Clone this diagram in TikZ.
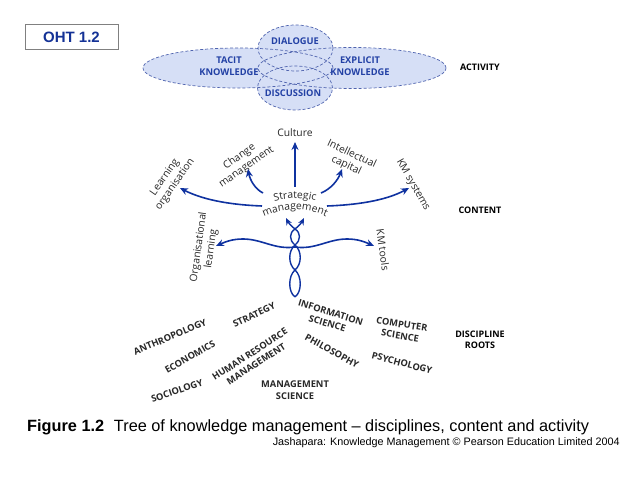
\documentclass[tikz,border=0pt]{standalone}
\usepackage{fontspec}
\setmainfont{Open Sans}
\newfontfamily\capfont{Liberation Sans}
\usetikzlibrary{arrows.meta, decorations.text, positioning}
\definecolor{OHTBlue}{RGB}{20,50,150}
\definecolor{EllFill}{RGB}{214,223,246}
\definecolor{EllLine}{RGB}{80,100,175}
\definecolor{EllText}{RGB}{35,65,165}
\definecolor{ArrBlue}{RGB}{15,50,160}
\definecolor{LabelGray}{RGB}{40,40,40}

\begin{document}
\begin{tikzpicture}[x=1pt, y=-1pt,
	lobe/.style={draw=EllLine, densely dashed, line width=0.7pt},
	lobetext/.style={font=\bfseries\fontsize{9.3}{11.5}\selectfont, text=EllText, align=center},
	flow/.style={draw=ArrBlue, line width=1.6pt, -{Stealth[length=8pt,width=7pt]}},
	strand/.style={draw=ArrBlue, line width=1.4pt},
	topic/.style={font=\fontsize{10.3}{12.5}\selectfont, text=LabelGray, align=center, inner sep=1pt},
	root/.style={font=\bfseries\fontsize{9.3}{11.5}\selectfont, text=LabelGray, align=center, inner sep=1pt},
	level/.style={font=\bfseries\fontsize{9}{11.5}\selectfont, align=center}]
\fill[white] (0,0) rectangle (638,478);
\useasboundingbox (0,0) rectangle (638,478);
% title box
\node[draw=gray, line width=1pt, fill=white, minimum width=93pt, minimum height=25pt,
	font=\capfont\bfseries\fontsize{15}{17}\selectfont, text=OHTBlue] (oht) at (71.5,37) {OHT 1.2};
% activity lobes
\coordinate (tacitC) at (238,68);
\coordinate (explicitC) at (352,68);
\coordinate (dialogueC) at (295.5,48);
\coordinate (discussC) at (295,88);
\foreach \c/\rx/\ry in {tacitC/95/20, explicitC/94/20.5, dialogueC/37.5/23, discussC/37.5/22}
	\fill[EllFill] (\c) ellipse [x radius=\rx pt, y radius=\ry pt];
\foreach \c/\rx/\ry in {tacitC/95/20, explicitC/94/20.5, dialogueC/37.5/23, discussC/37.5/22}
	\draw[lobe] (\c) ellipse [x radius=\rx pt, y radius=\ry pt];
\node[lobetext] (dialogue) at (295,41) {DIALOGUE};
\node[lobetext] (tacit) at (229,66) {TACIT\\KNOWLEDGE};
\node[lobetext] (explicit) at (360,66) {EXPLICIT\\KNOWLEDGE};
\node[lobetext] (discussion) at (293,93) {DISCUSSION};
% levels
\node[level] (activity) at (480,67) {ACTIVITY};
\node[level] (content) at (480,210) {CONTENT};
\node[level] (roots) at (480,340) {DISCIPLINE\\ROOTS};
% content
\coordinate (sm) at (295,205);
\path[decorate, decoration={text along path, text align=center,
	text={|\fontsize{10.3}{12}\selectfont\color{LabelGray}|Strategic}}]
	(268,203) .. controls (285,197) and (305,197) .. (322,203);
\path[decorate, decoration={text along path, text align=center,
	text={|\fontsize{10.3}{12}\selectfont\color{LabelGray}|management}}]
	(261,218) .. controls (282,207) and (308,207) .. (329,218);
\node[topic] (culture) at (295,133) {Culture};
\node[topic, rotate=35] (change) at (243,162) {Change\\management};
\node[topic, rotate=-25] (capital) at (349,160) {Intellectual\\capital};
\node[topic, rotate=55] (learnorg) at (170,181) {Learning\\organisation};
\node[topic, rotate=-60] (kmsys) at (413,185) {KM systems};
\node[topic, rotate=82] (orglearn) at (205,248) {Organisational\\learning};
\node[topic, rotate=-82] (kmtools) at (383,250) {KM tools};
\coordinate (smU) at (295,187);
\coordinate (smUL) at (263,193);
\coordinate (smUR) at (321,193);
\coordinate (smL) at (262,206);
\coordinate (smR) at (327,206);
\coordinate (toCulture) at (295,142);
\coordinate (toChange) at (248,169);
\coordinate (toCapital) at (342,169);
\coordinate (toLearn) at (180,188);
\coordinate (toSys) at (409,188);
\coordinate (toOrg) at (216,246);
\coordinate (toTools) at (374,246);
\draw[flow] (smU) -- (toCulture);
\draw[flow] (smUL) .. controls (255,189) and (250,180) .. (toChange);
\draw[flow] (smUR) .. controls (331,189) and (338,180) .. (toCapital);
\draw[flow] (smL) .. controls (235,205) and (205,201) .. (toLearn);
\draw[flow] (smR) .. controls (355,205) and (385,201) .. (toSys);
% stem
\coordinate (root) at (295,297);
\coordinate (twist) at (295,247);
\coordinate (stemL) at (286,218);
\coordinate (stemR) at (304,218);
\draw[flow] (twist) .. controls (275,250) and (262,239) .. (243,239) .. controls (232,239) and (225,242) .. (toOrg);
\draw[flow] (twist) .. controls (315,250) and (328,239) .. (347,239) .. controls (358,239) and (365,242) .. (toTools);
\draw[strand, -{Stealth[length=7pt,width=6pt]}] (root) .. controls (288,292) and (288,276) .. (295,270)
	.. controls (302,264) and (302,251) .. (295,245) .. controls (289,240) and (289,233) .. (295,229)
	.. controls (299,226) and (302,222) .. (stemR);
\draw[strand, -{Stealth[length=7pt,width=6pt]}] (root) .. controls (302,292) and (302,276) .. (295,270)
	.. controls (288,264) and (288,251) .. (295,245) .. controls (301,240) and (301,233) .. (295,229)
	.. controls (291,226) and (288,222) .. (stemL);
% discipline roots
\foreach \n/\x/\y/\r/\t in {anth/170/337/23/{ANTHROPOLOGY}, strat/254/315/25/{STRATEGY},
	info/329/318/-17/{INFORMATION\\SCIENCE}, comp/401/330/-9/{COMPUTER\\SCIENCE},
	econ/190/357/30/{ECONOMICS}, hrm/253/359/33/{HUMAN RESOURCE\\MANAGEMENT},
	phil/332/351/-29/{PHILOSOPHY}, psych/402/363/-15/{PSYCHOLOGY},
	soc/177/391/19/{SOCIOLOGY}, mgmt/295/390/0/{MANAGEMENT\\SCIENCE}}
	\node[root, rotate=\r] (\n) at (\x,\y) {\t};
% caption
\node[anchor=west, inner sep=0pt, font=\capfont\fontsize{16.3}{18}\selectfont] (caption) at (27,427)
	{\textbf{Figure 1.2}\hspace{0.6em}Tree of knowledge management – disciplines, content and activity};
\node[anchor=east, inner sep=0pt, font=\capfont\fontsize{10.8}{13}\selectfont] (credit) at (620,443)
	{Jashapara: Knowledge Management © Pearson Education Limited 2004};
\end{tikzpicture}
\end{document}
